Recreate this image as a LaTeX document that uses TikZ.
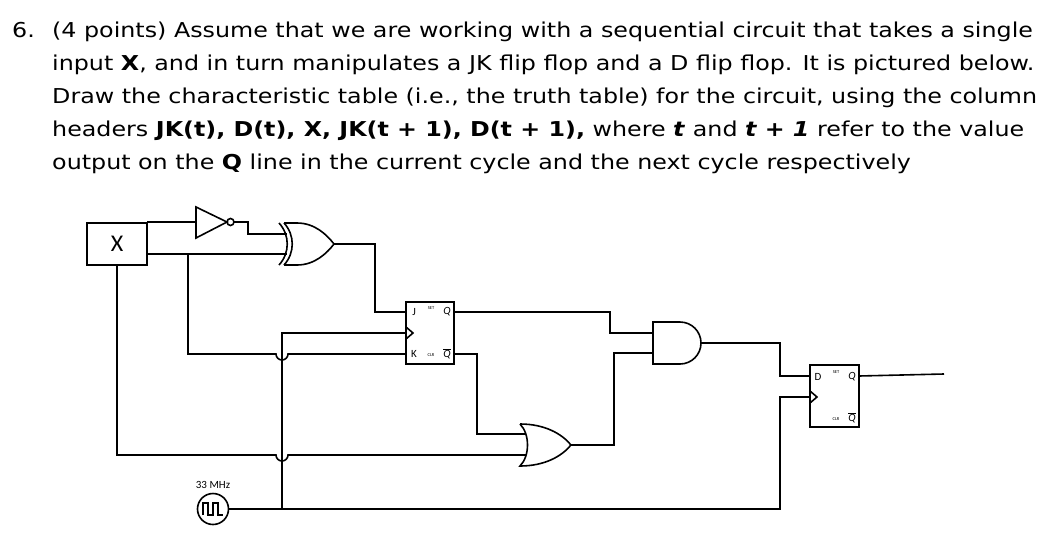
\documentclass[tikz,border=0pt]{standalone}
\usepackage{fontspec}
\setmainfont[FakeStretch=1.16]{DejaVu Sans}
\newfontfamily\calfont{Carlito}
\begin{document}
\begin{tikzpicture}[x=1pt,y=-1pt,
  w/.style={line width=1.6pt,line join=miter},
  txt/.style={anchor=base west,inner sep=0pt,font=\fontsize{20.5}{24}\selectfont},
  pin/.style={inner sep=0pt,font=\calfont\fontsize{11}{12}\selectfont},
  tiny/.style={inner sep=0pt,font=\calfont\fontsize{4.5}{5}\selectfont}]
\useasboundingbox (0,0) rectangle (1055,557);
% header text
\node[txt] (n6) at (12,37) {6.};
\node[txt] (l1) at (52,37) {(4 points) Assume that we are working with a sequential circuit that takes a single};
\node[txt] (l2) at (52,70) {input \textbf{X}, and in turn manipulates a JK flip flop and a D flip flop. It is pictured below.};
\node[txt] (l3) at (52,103) {Draw the characteristic table (i.e., the truth table) for the circuit, using the column};
\node[txt] (l4) at (52,136) {headers \textbf{JK(t), D(t), X, JK(t + 1), D(t + 1),} where \textbf{\textit{t}} and \textbf{\textit{t + 1}} refer to the value};
\node[txt] (l5) at (52,169) {output on the \textbf{Q} line in the current cycle and the next cycle respectively};
% X box
\node[draw,line width=2.4pt,minimum width=60pt,minimum height=42pt,inner sep=0pt,font=\calfont\fontsize{24}{26}\selectfont] (xb) at (117,244) {X};
% inverter
\draw[w] (196,207) -- (227,222) -- (196,238) -- cycle;
\draw[w] (230.5,222) circle (3.5);
\coordinate (invin) at (196,222);
\coordinate (invout) at (234,222);
% XOR
\draw[w] (279,223) .. controls (290,235) and (290,253) .. (279,265);
\draw[w] (284,223) .. controls (295,235) and (295,253) .. (284,265);
\draw[w] (284,223) -- (297,223) .. controls (315,223) and (327,235) .. (334,244) .. controls (327,253) and (315,265) .. (297,265) -- (284,265);
\coordinate (xorout) at (334,244);
% JK FF
\draw[w] (406,302) rectangle (454,364);
\draw[w] (406,327) -- (413,333) -- (406,339);
\node[pin] (jl) at (414,312) {J};
\node[pin] (kl) at (414,354) {K};
\node[pin] (q1) at (447,312) {\textit{Q}};
\node[pin] (qb1) at (447,354) {$\overline{\mbox{\textit{Q}}}$};
\node[tiny] (s1) at (431,308) {SET};
\node[tiny] (c1) at (431,355) {CLR};
% AND
\draw[w] (653,322) -- (680,322) arc (-90:90:21) -- (653,364) -- cycle;
\coordinate (andout) at (701,343);
% OR
\draw[w] (520,424) .. controls (530,434) and (530,456) .. (520,466) .. controls (545,466) and (562,456) .. (571,445) .. controls (562,434) and (545,424) .. (520,424);
\coordinate (orout) at (571,445);
% D FF
\draw[w] (810,365) rectangle (859,427);
\draw[w] (810,391) -- (817,397) -- (810,403);
\node[pin] (dl) at (818,377) {D};
\node[pin] (q2) at (852,377) {\textit{Q}};
\node[pin] (qb2) at (852,418) {$\overline{\mbox{\textit{Q}}}$};
\node[tiny] (s2) at (836,372) {SET};
\node[tiny] (c2) at (836,419) {CLR};
% clock
\node[draw,circle,line width=1.6pt,minimum size=31pt,inner sep=0pt] (clk) at (213,509) {};
\draw[w] (203,515) -- (203,503) -- (208,503) -- (208,515) -- (213,515) -- (213,503) -- (218,503) -- (218,515) -- (223,515);
\node[inner sep=0pt,font=\calfont\fontsize{11}{12}\selectfont] (mhz) at (213,485) {33 MHz};
% wires
\draw[w] (147,222) -- (invin);
\draw[w] (invout) -- (248,222) -- (248,234) -- (287,234);
\draw[w] (147,254) -- (287,254);
\draw[w] (xorout) -- (375,244) -- (375,312) -- (406,312);
\draw[w] (188,254) -- (188,354) -- (276,354) arc (180:0:6) -- (406,354);
\draw[w] (clk.east) -- (780,509) -- (780,397) -- (810,397);
\draw[w] (282,509) -- (282,333) -- (406,333);
\draw[w] (117,265) -- (117,455) -- (276,455) arc (180:0:6) -- (526,455);
\draw[w] (454,312) -- (610,312) -- (610,333) -- (653,333);
\draw[w] (454,354) -- (477,354) -- (477,434) -- (526,434);
\draw[w] (orout) -- (614,445) -- (614,353) -- (653,353);
\draw[w] (andout) -- (780,343) -- (780,376) -- (810,376);
\draw[w] (859,376) -- (944,374);
\end{tikzpicture}
\end{document}
